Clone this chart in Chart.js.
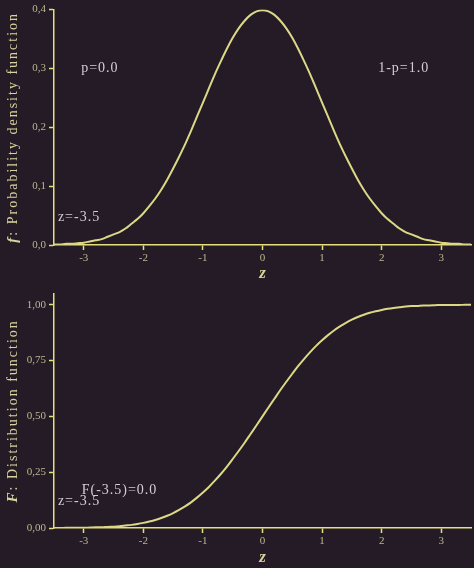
<!DOCTYPE html>
<html>
<head>
<meta charset="utf-8">
<script src="https://cdn.jsdelivr.net/npm/chart.js@4.4.1/dist/chart.umd.min.js"></script>
<style>
  html, body { margin: 0; padding: 0; background: #241b26; }
  .box { position: relative; width: 474px; height: 284px; }
</style>
</head>
<body>
<div class="box"><canvas id="pdf"></canvas></div>
<div class="box"><canvas id="cdf"></canvas></div>
<script>
// z grid (step 0.1 from -3.5 to 3.5)
const zValues = [
  -3.5, -3.4, -3.3, -3.2, -3.1, -3.0, -2.9, -2.8, -2.7, -2.6, -2.5, -2.4, -2.3, -2.2, -2.1,
  -2.0, -1.9, -1.8, -1.7, -1.6, -1.5, -1.4, -1.3, -1.2, -1.1, -1.0, -0.9, -0.8, -0.7, -0.6,
  -0.5, -0.4, -0.3, -0.2, -0.1, 0.0, 0.1, 0.2, 0.3, 0.4, 0.5, 0.6, 0.7, 0.8, 0.9,
  1.0, 1.1, 1.2, 1.3, 1.4, 1.5, 1.6, 1.7, 1.8, 1.9, 2.0, 2.1, 2.2, 2.3, 2.4,
  2.5, 2.6, 2.7, 2.8, 2.9, 3.0, 3.1, 3.2, 3.3, 3.4, 3.5
];

// upper panel: density curve
const pdfValues = [
  0.001, 0.001, 0.002, 0.002, 0.003, 0.004, 0.006, 0.008, 0.010, 0.014, 0.018, 0.022, 0.028, 0.036, 0.044,
  0.054, 0.066, 0.079, 0.094, 0.111, 0.130, 0.150, 0.171, 0.194, 0.218, 0.242, 0.266, 0.290, 0.312, 0.333,
  0.352, 0.368, 0.381, 0.391, 0.397, 0.399, 0.397, 0.391, 0.381, 0.368, 0.352, 0.333, 0.312, 0.290, 0.266,
  0.242, 0.218, 0.194, 0.171, 0.150, 0.130, 0.111, 0.094, 0.079, 0.066, 0.054, 0.044, 0.036, 0.028, 0.022,
  0.018, 0.014, 0.010, 0.008, 0.006, 0.004, 0.003, 0.002, 0.002, 0.001, 0.001
];

// lower panel: distribution curve
const cdfValues = [
  0.000, 0.000, 0.001, 0.001, 0.001, 0.001, 0.002, 0.003, 0.003, 0.005, 0.006, 0.008, 0.011, 0.014, 0.018,
  0.023, 0.029, 0.036, 0.045, 0.055, 0.067, 0.081, 0.097, 0.115, 0.136, 0.159, 0.184, 0.212, 0.242, 0.274,
  0.309, 0.345, 0.382, 0.421, 0.460, 0.500, 0.540, 0.579, 0.618, 0.655, 0.691, 0.726, 0.758, 0.788, 0.816,
  0.841, 0.864, 0.885, 0.903, 0.919, 0.933, 0.945, 0.955, 0.964, 0.971, 0.977, 0.982, 0.986, 0.989, 0.992,
  0.994, 0.995, 0.997, 0.997, 0.998, 0.999, 0.999, 0.999, 0.999, 1.000, 1.000
];

const xTicks = [-3, -2, -1, 0, 1, 2, 3];
const pdfTicks = [0.0, 0.1, 0.2, 0.3, 0.4];
const cdfTicks = [0.0, 0.25, 0.5, 0.75, 1.0];

const pdfNotes = [
  { text: 'p=0.0', x: -2.73, y: 0.3 },
  { text: '1-p=1.0', x: 2.37, y: 0.3 },
  { text: 'z=-3.5', x: -3.08, y: 0.047 }
];
const cdfNotes = [
  { text: 'F(-3.5)=0.0', x: -2.4, y: 0.167 },
  { text: 'z=-3.5', x: -3.08, y: 0.119 }
];

const AXIS = '#e4e07c';
const CURVE = '#dcd886';
const TICK_TXT = '#bdb690';
const NOTE_TXT = '#d2ced2';
const TITLE_TXT = '#d8d29c';
const FONT = "'Liberation Serif', 'DejaVu Serif', serif";

function notesPlugin(notes) {
  return {
    id: 'notes',
    afterDatasetsDraw(chart) {
      const { ctx, scales } = chart;
      ctx.save();
      ctx.fillStyle = NOTE_TXT;
      ctx.font = `14px ${FONT}`;
      ctx.letterSpacing = '1px';
      ctx.textAlign = 'center';
      ctx.textBaseline = 'middle';
      notes.forEach((n) => {
        ctx.fillText(n.text, scales.x.getPixelForValue(n.x), scales.y.getPixelForValue(n.y));
      });
      ctx.restore();
    }
  };
}

function yTitlePlugin(symbol, rest) {
  return {
    id: 'ytitle',
    afterDraw(chart) {
      const { ctx, chartArea } = chart;
      const cy = (chartArea.top + chartArea.bottom) / 2;
      ctx.save();
      ctx.translate(13, cy);
      ctx.rotate(-Math.PI / 2);
      ctx.textBaseline = 'middle';
      ctx.fillStyle = TITLE_TXT;
      ctx.letterSpacing = '2px';
      ctx.font = `italic bold 15px ${FONT}`;
      const w1 = ctx.measureText(symbol).width;
      ctx.font = `14px ${FONT}`;
      const w2 = ctx.measureText(rest).width;
      const x = -(w1 + w2) / 2;
      ctx.font = `italic bold 15px ${FONT}`;
      ctx.fillText(symbol, x, 0);
      ctx.font = `14px ${FONT}`;
      ctx.fillText(rest, x + w1, 0);
      ctx.restore();
    }
  };
}

function makeChart(id, values, yTicks, yMax, decimals, padTop, xHeight, notes, symbol, rest) {
  const canvas = document.getElementById(id);
  return new Chart(canvas, {
    type: 'line',
    data: {
      datasets: [{
        data: zValues.map((z, i) => ({ x: z, y: values[i] })),
        borderColor: CURVE,
        borderWidth: 2,
        pointRadius: 0,
        cubicInterpolationMode: 'monotone',
        fill: false
      }]
    },
    options: {
      responsive: true,
      maintainAspectRatio: false,
      animation: false,
      layout: { padding: { top: padTop, right: 3, left: 0, bottom: 0 } },
      plugins: { legend: { display: false }, tooltip: { enabled: false } },
      scales: {
        x: {
          type: 'linear',
          min: -3.5,
          max: 3.5,
          afterBuildTicks: (s) => { s.ticks = xTicks.map((v) => ({ value: v })); },
          afterFit: (s) => { s.height = xHeight; },
          border: { color: AXIS, width: 1.5 },
          grid: { drawOnChartArea: false, drawTicks: true, tickLength: 5, color: AXIS, tickWidth: 1.5 },
          ticks: { color: TICK_TXT, font: { family: FONT, size: 11 }, padding: 2 },
          title: {
            display: true,
            text: 'z',
            color: TITLE_TXT,
            font: { family: FONT, size: 17, style: 'italic', weight: 'bold' },
            padding: { top: 0, bottom: 0 }
          }
        },
        y: {
          type: 'linear',
          min: 0,
          max: yMax,
          afterBuildTicks: (s) => { s.ticks = yTicks.map((v) => ({ value: v })); },
          afterFit: (s) => { s.width = 54; },
          border: { color: AXIS, width: 1.5 },
          grid: { drawOnChartArea: false, drawTicks: true, tickLength: 5, color: AXIS, tickWidth: 1.5 },
          ticks: {
            color: TICK_TXT,
            font: { family: FONT, size: 11 },
            padding: 3,
            callback: (v) => Number(v).toFixed(decimals).replace('.', ',')
          }
        }
      }
    },
    plugins: [notesPlugin(notes), yTitlePlugin(symbol, rest)]
  });
}

makeChart('pdf', pdfValues, pdfTicks, 0.4, 1, 8, 39, pdfNotes, 'f', ': Probability density function');
makeChart('cdf', cdfValues, cdfTicks, 1.05, 2, 6, 40, cdfNotes, 'F', ': Distribution function');
</script>
</body>
</html>
